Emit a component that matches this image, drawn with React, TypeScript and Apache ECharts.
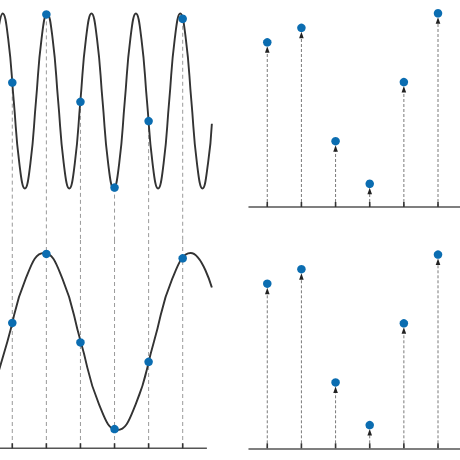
import React, { useEffect, useRef } from "react";
import * as echarts from "echarts";

// sample instants (index) and sampled values (shared by both left panels — aliasing)
const sampleIndex = [0, 1, 2, 3, 4, 5];
const sampleValues = [0.21, 0.99, -0.01, -0.99, -0.23, 0.94];
// stem heights of the right panels
const stemValues = [0.85, 0.925, 0.34, 0.12, 0.645, 1.0];

// high-frequency curve
const fastCurveX = [
  -0.445, -0.282, -0.12, 0.043, 0.206, 0.369, 0.532, 0.695, 0.858, 1.021, 1.184, 1.346, 1.509,
  1.672, 1.835, 1.998, 2.161, 2.324, 2.486, 2.649, 2.812, 2.975, 3.138, 3.301, 3.464, 3.627,
  3.789, 3.952, 4.115, 4.278, 4.441, 4.604, 4.767, 4.929, 5.092, 5.255, 5.418, 5.581, 5.744,
  5.856,
];
const fastCurveY = [
  0.71, 1, 0.71, 0, -0.71, -1, -0.71, 0,
  0.71, 1, 0.71, 0, -0.71, -1, -0.71, 0,
  0.71, 1, 0.71, 0, -0.71, -1, -0.71, 0,
  0.71, 1, 0.71, 0, -0.71, -1, -0.71, 0,
  0.71, 1, 0.71, 0, -0.71, -1, -0.71,
  -0.26,
];
// low-frequency (alias) curve
const slowCurveX = [-0.681, -0.143, 0.394, 0.932, 1.47, 2.007, 2.545, 3.082, 3.62, 4.158, 4.695, 5.233, 5.856];
const slowCurveY = [-0.71, 0, 0.71, 1, 0.71, 0, -0.71, -1, -0.71, 0, 0.71, 1, 0.61];

const LEFT_X_MIN = -0.3607;
const LEFT_X_MAX = 5.86;
const LEFT_AXIS_END = 5.71;
const RIGHT_X_MIN = -0.535;
const RIGHT_X_MAX = 5.644;
const TOP_Y_MIN = -1.5886;
const TOP_Y_MAX = 1.1543;
const BOT_Y_MIN = -1.2068;
const BOT_Y_MAX = 1.1469;

const DOT = "#0b6db1";
const CURVE = "#333333";
const DASH_LEFT = "#9a9a9a";
const DASH_RIGHT = "#7a7a7a";
const AXIS = "#555555";

export default function App() {
  const ref = useRef<HTMLDivElement>(null);

  useEffect(() => {
    if (!ref.current) return;
    const chart = echarts.init(ref.current, undefined, { renderer: "svg" });

    const samples = sampleIndex.map((n, i) => [n, sampleValues[i]]);
    const stems = sampleIndex.map((n, i) => [n, stemValues[i]]);
    const fast = fastCurveX.map((x, i) => [x, fastCurveY[i]]);
    const slow = slowCurveX.map((x, i) => [x, slowCurveY[i]]);

    const hiddenY = (min: number, max: number) => ({
      type: "value",
      min,
      max,
      show: false,
    });
    const xAxis = (min: number, max: number, showLine: boolean) => ({
      type: "value",
      min,
      max,
      show: showLine,
      axisLine: { show: showLine, onZero: false, lineStyle: { color: AXIS, width: 1.5 } },
      axisTick: { show: false },
      axisLabel: { show: false },
      splitLine: { show: false },
    });

    const stemRender = (params: any, api: any) => {
      const n = api.value(0);
      const v = api.value(1);
      const base = api.coord([n, 0]);
      const top = api.coord([n, v]);
      const x = base[0];
      const dy = top[1];
      return {
        type: "group",
        children: [
          {
            type: "line",
            shape: { x1: x, y1: base[1], x2: x, y2: dy + 10 },
            style: { stroke: DASH_RIGHT, lineWidth: 1, lineDash: [3, 2] },
          },
          {
            type: "polygon",
            shape: { points: [[x, dy + 4], [x - 2.3, dy + 10.5], [x + 2.3, dy + 10.5]] },
            style: { fill: "#222" },
          },
          {
            type: "line",
            shape: { x1: x, y1: base[1], x2: x, y2: base[1] - 5 },
            style: { stroke: "#333", lineWidth: 1.6 },
          },
        ],
      };
    };

    chart.setOption({
      animation: false,
      grid: [
        { left: 0, top: 0, width: 212, height: 240 },
        { left: 0, top: 240, width: 212, height: 208.3 },
        { left: 249, top: 13.3, width: 211, height: 193.7 },
        { left: 249, top: 254.6, width: 211, height: 193.7 },
      ],
      xAxis: [
        { ...xAxis(LEFT_X_MIN, LEFT_X_MAX, false), gridIndex: 0 },
        { ...xAxis(LEFT_X_MIN, LEFT_X_MAX, false), gridIndex: 1 },
        { ...xAxis(RIGHT_X_MIN, RIGHT_X_MAX, true), gridIndex: 2 },
        { ...xAxis(RIGHT_X_MIN, RIGHT_X_MAX, true), gridIndex: 3 },
      ],
      yAxis: [
        { ...hiddenY(TOP_Y_MIN, TOP_Y_MAX), gridIndex: 0 },
        { ...hiddenY(BOT_Y_MIN, BOT_Y_MAX), gridIndex: 1 },
        { ...hiddenY(0, 1), gridIndex: 2 },
        { ...hiddenY(0, 1), gridIndex: 3 },
      ],
      series: [
        {
          type: "custom",
          xAxisIndex: 1,
          yAxisIndex: 1,
          data: [[LEFT_X_MIN, LEFT_AXIS_END]],
          z: 1,
          renderItem: (params: any, api: any) => {
            const p1 = api.coord([api.value(0), BOT_Y_MIN]);
            const p2 = api.coord([api.value(1), BOT_Y_MIN]);
            return {
              type: "line",
              shape: { x1: p1[0], y1: p1[1], x2: p2[0], y2: p2[1] },
              style: { stroke: AXIS, lineWidth: 1.5 },
            };
          },
        },
        {
          type: "custom",
          xAxisIndex: 0,
          yAxisIndex: 0,
          data: samples,
          z: 1,
          renderItem: (params: any, api: any) => {
            const n = api.value(0);
            const v = api.value(1);
            const p1 = api.coord([n, v]);
            const p2 = api.coord([n, TOP_Y_MIN]);
            return {
              type: "line",
              shape: { x1: p1[0], y1: p1[1], x2: p2[0], y2: p2[1] },
              style: { stroke: DASH_LEFT, lineWidth: 1, lineDash: [4, 3] },
            };
          },
        },
        {
          type: "custom",
          xAxisIndex: 1,
          yAxisIndex: 1,
          data: samples,
          z: 1,
          renderItem: (params: any, api: any) => {
            const n = api.value(0);
            const p1 = api.coord([n, BOT_Y_MAX]);
            const p2 = api.coord([n, BOT_Y_MIN]);
            return {
              type: "group",
              children: [
                {
                  type: "line",
                  shape: { x1: p1[0], y1: p1[1], x2: p2[0], y2: p2[1] },
                  style: { stroke: DASH_LEFT, lineWidth: 1, lineDash: [4, 3] },
                },
                {
                  type: "line",
                  shape: { x1: p2[0], y1: p2[1], x2: p2[0], y2: p2[1] - 5 },
                  style: { stroke: "#333", lineWidth: 1.6 },
                },
              ],
            };
          },
        },
        {
          type: "line",
          xAxisIndex: 0,
          yAxisIndex: 0,
          data: fast,
          smooth: 0.5,
          showSymbol: false,
          clip: false,
          z: 2,
          lineStyle: { color: CURVE, width: 1.9 },
        },
        {
          type: "line",
          xAxisIndex: 1,
          yAxisIndex: 1,
          data: slow,
          smooth: 0.5,
          showSymbol: false,
          clip: false,
          z: 2,
          lineStyle: { color: CURVE, width: 1.9 },
        },
        {
          type: "scatter",
          xAxisIndex: 0,
          yAxisIndex: 0,
          data: samples,
          symbolSize: 8.5,
          clip: false,
          z: 3,
          itemStyle: { color: DOT, opacity: 1 },
        },
        {
          type: "scatter",
          xAxisIndex: 1,
          yAxisIndex: 1,
          data: samples,
          symbolSize: 8.5,
          clip: false,
          z: 3,
          itemStyle: { color: DOT, opacity: 1 },
        },
        {
          type: "custom",
          xAxisIndex: 2,
          yAxisIndex: 2,
          data: stems,
          z: 1,
          renderItem: stemRender,
        },
        {
          type: "custom",
          xAxisIndex: 3,
          yAxisIndex: 3,
          data: stems,
          z: 1,
          renderItem: stemRender,
        },
        {
          type: "scatter",
          xAxisIndex: 2,
          yAxisIndex: 2,
          data: stems,
          symbolSize: 8.5,
          clip: false,
          z: 3,
          itemStyle: { color: DOT, opacity: 1 },
        },
        {
          type: "scatter",
          xAxisIndex: 3,
          yAxisIndex: 3,
          data: stems,
          symbolSize: 8.5,
          clip: false,
          z: 3,
          itemStyle: { color: DOT, opacity: 1 },
        },
      ],
    });

    return () => chart.dispose();
  }, []);

  return (
    <div
      ref={ref}
      style={{ position: "fixed", left: 0, top: 0, width: 460, height: 460, background: "#fff" }}
    />
  );
}
